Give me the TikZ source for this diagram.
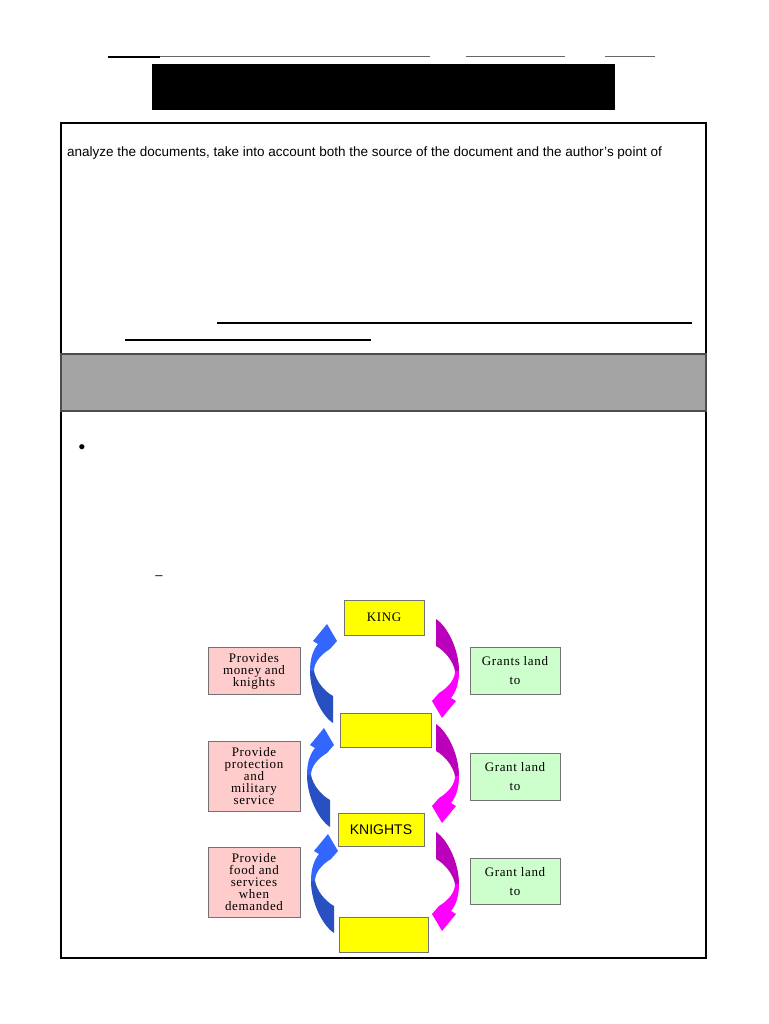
\documentclass[tikz,border=0pt]{standalone}
\usepackage{fontspec}
\usepackage{xcolor}
\usepackage{tikz}
\setmainfont{Liberation Serif}
\newfontfamily\arialish{Liberation Sans}
\newfontfamily\boxserif[LetterSpace=5]{Liberation Serif}
\definecolor{feudyellow}{HTML}{FFFF00}
\definecolor{feudpink}{HTML}{FFCCCC}
\definecolor{feudgreen}{HTML}{CCFFCC}
\definecolor{feudgray}{HTML}{A4A4A4}
\definecolor{feudblue}{HTML}{3366FF}
\definecolor{feudnavy}{HTML}{2850C0}
\definecolor{feudmagenta}{HTML}{FF00FF}
\definecolor{feudpurple}{HTML}{BB00BB}

\tikzset{
  rank/.style={draw=black!55,fill=feudyellow,inner sep=0pt,
    font=\boxserif\fontsize{13}{15}\selectfont},
  duty/.style={draw=black!55,fill=feudpink,inner sep=0pt,align=center,
    minimum width=92pt,font=\boxserif\fontsize{13}{12}\selectfont},
  grant/.style={draw=black!55,fill=feudgreen,inner sep=0pt,align=center,
    minimum width=90pt,font=\boxserif\fontsize{13}{12}\selectfont},
  pics/ribbon/.style 2 args={code={
    \fill[#2] (0,0) .. controls (0,22) and (12,45) .. (23,52) -- (23,25)
      .. controls (14,20) and (6,10) .. (4,0) -- cycle;
    \fill[#1] (0,0) .. controls (0,-12) and (3,-21) .. (8,-27) -- (3,-30)
      -- (17,-47) -- (27,-30) -- (20,-22) .. controls (10,-16) and (4,-8) .. (4,0) -- cycle;
  }}
}

\begin{document}
\begin{tikzpicture}[x=1pt,y=-1pt]
\useasboundingbox[fill=white] (0,0) rectangle (768,1024);

% heading lines and title bar
\draw[black!60,line width=1pt] (108,57) -- (430,57);
\draw[line width=1.2pt] (108,57) -- (160,57);
\draw[black!60,line width=1pt] (466,57) -- (565,57);
\draw[black!60,line width=1pt] (605,57) -- (655,57);
\fill[black] (152,64) rectangle (615,110);

% frame
\draw[line width=1.6pt] (61,123) rectangle (706,958);
\node[anchor=base west,inner sep=0pt,font=\arialish\fontsize{13.5}{15}\selectfont] (intro) at (67,157)
  {analyze the documents, take into account both the source of the document and the author’s point of};
\draw[line width=2pt] (217,323) -- (692,323);
\draw[line width=2pt] (125,340) -- (371,340);
\filldraw[fill=feudgray,draw=black!70,line width=1.6pt] (61,354) rectangle (706,411);
\node[inner sep=0pt,font=\arialish\fontsize{19}{20}\selectfont] (dot) at (82,449) {•};
\node[inner sep=0pt,font=\arialish\fontsize{13}{15}\selectfont] (dash) at (159,578) {–};

% pyramid boxes
\node[rank,minimum width=80pt,minimum height=35pt] (king) at (384,617.5) {KING};
\node[rank,minimum width=91pt,minimum height=34pt] (lord) at (386,730) {};
\node[rank,minimum width=86pt,minimum height=33pt,font=\arialish\fontsize{14}{16}\selectfont] (knights) at (381,829.5) {KNIGHTS};
\node[rank,minimum width=89pt,minimum height=35pt] (serf) at (384,934.5) {};

\node[duty,minimum height=47pt] (pay) at (254,671) {Provides\\money and\\knights};
\node[duty,minimum height=70pt] (serve) at (254,776.5) {Provide\\protection\\and\\military\\service};
\node[duty,minimum height=70pt] (feed) at (254,882) {Provide\\food and\\services\\when\\demanded};

\node[grant,minimum height=47pt] (fief) at (515,671) {Grants land\\[7pt]to};
\node[grant,minimum height=47pt] (fief2) at (515,776.5) {Grant land\\[7pt]to};
\node[grant,minimum height=46pt] (fief3) at (515,881.5) {Grant land\\[7pt]to};

% curved block arrows
\pic at (310,671) {ribbon={feudblue}{feudnavy}};
\pic at (307,775) {ribbon={feudblue}{feudnavy}};
\pic at (311,881) {ribbon={feudblue}{feudnavy}};
\pic[rotate=180] at (459,671) {ribbon={feudmagenta}{feudpurple}};
\pic[rotate=180] at (459,776) {ribbon={feudmagenta}{feudpurple}};
\pic[rotate=180] at (459,884) {ribbon={feudmagenta}{feudpurple}};
\end{tikzpicture}
\end{document}
